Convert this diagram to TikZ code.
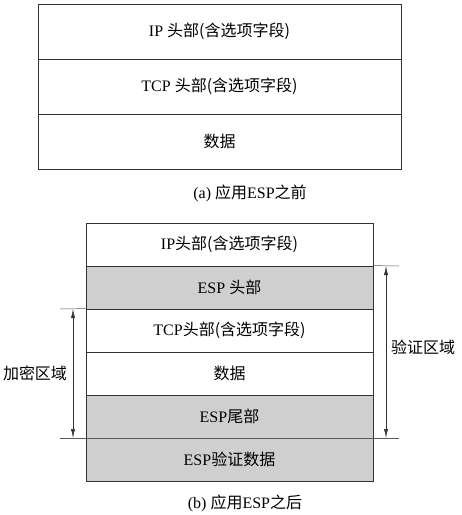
\documentclass[tikz,border=0pt]{standalone}
\usepackage{fontspec}
\setmainfont{Liberation Serif}
\newfontfamily\cjk{Noto Sans CJK SC}
\usetikzlibrary{arrows.meta}
\tikzset{
    layerA/.style={draw=black!80, line width=0.8pt, minimum width=363pt, minimum height=55pt, inner sep=0pt, font=\fontsize{16}{18}\selectfont},
    layerB/.style={layerA, minimum width=287pt, minimum height=43pt},
    espbox/.style={layerB, fill=black!19},
    tick/.style={draw=black!65, line width=0.5pt},
    span/.style={{Latex[length=9pt,width=4pt]}-{Latex[length=9pt,width=4pt]}, line width=0.5pt, black!80},
    lbl/.style={inner sep=0pt, font=\fontsize{16}{18}\selectfont}
}
\begin{document}
\begin{tikzpicture}[x=1pt,y=-1pt]
    \useasboundingbox (0,0) rectangle (462,515);
    % (a) before ESP
    \node [layerA] (aip) at (219.5,31.5) {IP {\cjk 头部(含选项字段)}};
    \node [layerA] (atcp) at (219.5,86.5) {TCP {\cjk 头部(含选项字段)}};
    \node [layerA] (adata) at (219.5,141.5) {\cjk 数据};
    \node [lbl] (capa) at (250,193) {(a) {\cjk 应用}ESP{\cjk 之前}};
    % (b) after ESP
    \node [layerB] (bip) at (229.5,244.5) {IP{\cjk 头部(含选项字段)}};
    \node [espbox] (bhead) at (229.5,287.5) {ESP {\cjk 头部}};
    \node [layerB] (btcp) at (229.5,330.5) {TCP{\cjk 头部(含选项字段)}};
    \node [layerB] (bdata) at (229.5,373.5) {\cjk 数据};
    \node [espbox] (btrail) at (229.5,416.5) {ESP{\cjk 尾部}};
    \node [espbox] (bauth) at (229.5,459.5) {ESP{\cjk 验证数据}};
    \node [lbl] (capb) at (245,503) {(b) {\cjk 应用}ESP{\cjk 之后}};
    % brackets
    \coordinate (encL) at (60,309);
    \coordinate (botL) at (60,438);
    \coordinate (authR) at (399,266);
    \coordinate (botR) at (399,438);
    \draw [tick] (encL) -- (btcp.north west);
    \draw [tick] (botL) -- (botR);
    \draw [tick] (bhead.north east) -- (authR);
    \draw [span] (73,309) -- (73,438);
    \draw [span] (386,266) -- (386,438);
    \node [lbl] (enc) at (35,373) {\cjk 加密区域};
    \node [lbl] (auth) at (423,347) {\cjk 验证区域};
\end{tikzpicture}
\end{document}
